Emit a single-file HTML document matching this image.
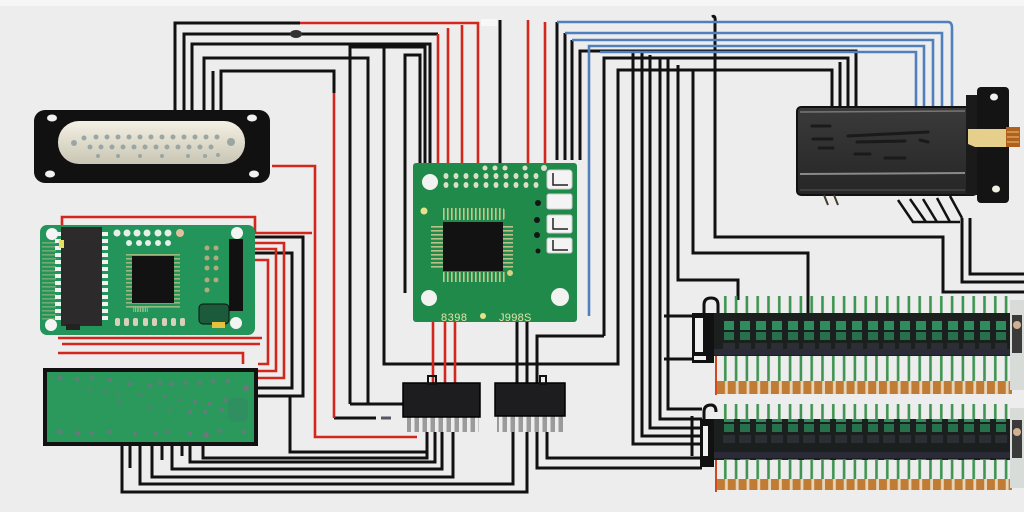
<!DOCTYPE html>
<html><head><meta charset="utf-8">
<style>
html,body{margin:0;padding:0;background:#eeeeee;}
svg{display:block;}
</style></head>
<body>
<svg width="1024" height="512" viewBox="0 0 1024 512" xmlns="http://www.w3.org/2000/svg">
<defs>
  <pattern id="pinsG" x="720" y="0" width="10.8" height="30" patternUnits="userSpaceOnUse">
    <rect x="4" y="0" width="2.6" height="30" fill="#3f9452"/>
  </pattern>
  <pattern id="band" x="716" y="0" width="10.8" height="14" patternUnits="userSpaceOnUse">
    <rect x="0" y="0" width="10.8" height="14" fill="#e6d6bd"/>
    <rect x="1" y="0" width="8" height="14" fill="#c07c34"/>
  </pattern>
  <pattern id="blocks" x="722" y="313" width="16" height="46" patternUnits="userSpaceOnUse">
    <rect x="2" y="8" width="10" height="9" fill="#2f8c5e"/>
    <rect x="2" y="19" width="10" height="8" fill="#26704c"/>
    <rect x="1" y="30" width="12" height="8" fill="#2b2f33"/>
  </pattern>
  <pattern id="chipPins" x="405" y="0" width="8" height="20" patternUnits="userSpaceOnUse">
    <rect x="1.5" y="0" width="4.5" height="20" fill="#9b9b9b"/>
  </pattern>
  <pattern id="goldV" x="442" y="0" width="4" height="20" patternUnits="userSpaceOnUse">
    <rect x="1" y="0" width="1.6" height="20" fill="#c9c48a"/>
  </pattern>
  <pattern id="goldH" x="0" y="225" width="20" height="4" patternUnits="userSpaceOnUse">
    <rect x="0" y="1" width="20" height="1.6" fill="#b9c08a"/>
  </pattern>
  <pattern id="dipPins" x="0" y="231" width="10" height="7" patternUnits="userSpaceOnUse">
    <rect x="0" y="1" width="10" height="4" fill="#f2f2f2"/>
  </pattern>
  <linearGradient id="pill" x1="0" y1="0" x2="0" y2="1">
    <stop offset="0" stop-color="#f4f1e6"/>
    <stop offset="0.5" stop-color="#dedbcb"/>
    <stop offset="1" stop-color="#c9c6b6"/>
  </linearGradient>
  <linearGradient id="dev" x1="0" y1="0" x2="0" y2="1">
    <stop offset="0" stop-color="#3a3a3a"/>
    <stop offset="1" stop-color="#262626"/>
  </linearGradient>
</defs>

<rect x="0" y="0" width="1024" height="512" fill="#ededed"/>
<rect x="0" y="0" width="1024" height="6" fill="#f6f6f6"/>

<!-- ============ WIRES ============ -->
<g fill="none" stroke="#111" stroke-width="3" stroke-linejoin="miter">
  <!-- from D-sub up -->
  <path d="M175,110 V23 H300"/>
  <path d="M184,110 V34 H438"/>
  <path d="M192,110 V44 H430 V163"/>
  <path d="M204,110 V58 H368 V404"/>
  <path d="M213,110 V71"/>
  <path d="M221,110 V71 H334 V93"/>
  <path d="M334,418 H376"/>
  <path d="M350,404 V47 H425 V163"/>
  <path d="M350,404 H403"/>
  <path d="M384,48 V364 H618 V70 H832 V107"/>
  <path d="M405,293 V55 H420 V163"/>
  <path d="M500,163 V20"/>
  <!-- right top group -->
  <path d="M557,160 V22"/>
  <path d="M565,160 V33"/>
  <path d="M572,160 V40"/>
  <path d="M580,160 V51 H856 V107"/>
  <path d="M604,336 V58 H848 V107"/>
  <path d="M604,336 H537 V383"/>
  <path d="M517,322 V383"/>
  <path d="M527,322 V383"/>
  <path d="M633,52 V444 H702"/>
  <path d="M642,52 V436 H702"/>
  <path d="M650,55 V428 H702"/>
  <path d="M660,58 V419 H702"/>
  <path d="M668,58 V409 H702"/>
  <path d="M664,316 H702"/>
  <path d="M664,359 H702"/>
  <path d="M678,65 V280 H738 V300"/>
  <path d="M693,70 V253 H808 V313"/>
  <path d="M712,17 Q716,14 715,24 V237 H943 V292 H1024"/>
  <path d="M962,218 V282 H1024"/>
  <path d="M970,218 V274 H1024"/>
  <path d="M840,107 V62"/>
  <!-- diagonals from device -->
  <path d="M898,200 L913,222 H960" stroke-width="2.5"/>
  <path d="M910,199 L926,222" stroke-width="2.5"/>
  <path d="M923,199 L937,222" stroke-width="2.5"/>
  <path d="M937,198 L950,222" stroke-width="2.5"/>
  <path d="M950,196 L962,218" stroke-width="2.5"/>
  <!-- left PCB nested black -->
  <path d="M250,237 H303 V396 H258"/>
  <path d="M250,253 H292 V388 H258"/>
  <path d="M290,396 V452 H427"/>
  <!-- bottom from board 2 and chips -->
  <path d="M203,446 V458 H427 V432"/>
  <path d="M190,446 V462 H435 V432"/>
  <path d="M172,446 V469 H442 V432"/>
  <path d="M152,446 V477 H453 V432"/>
  <path d="M140,446 V484 H513 V432"/>
  <path d="M122,446 V492 H527 V432"/>
  <path d="M130,446 V468"/>
  <path d="M162,446 V460"/>
  <path d="M182,446 V456"/>
  <path d="M547,432 V458 H702"/>
  <path d="M537,432 V468 H702"/>
  <path d="M692,416 V456"/>
</g>
<!-- gray dash -->
<path d="M381,418 H391" stroke="#556" stroke-width="3"/>

<!-- red wires -->
<g fill="none" stroke="#d3271d" stroke-width="2.6">
  <path d="M300,23 H478 V163"/>
  <path d="M438,34 V163"/>
  <path d="M448,163 V28"/>
  <path d="M462,163 V25"/>
  <path d="M334,93 V418"/>
  <path d="M528,163 V20"/>
  <path d="M545,163 V22"/>
  <path d="M272,166 H315 V437 H417"/>
  <path d="M62,225 V217 H255 V232"/>
  <path d="M250,233 H312"/>
  <path d="M255,243 H284 V378 H258"/>
  <path d="M255,249 H276 V371 H258"/>
  <path d="M255,260 H268 V364 H258"/>
  <path d="M58,338 H262"/>
  <path d="M62,344 H260"/>
  <path d="M58,353 H243 V364"/>
  <path d="M433,322 V383"/>
  <path d="M445,322 V383"/>
  <path d="M455,322 V383"/>
</g>
<rect x="481" y="19" width="16" height="7" fill="#f8f8f8"/>

<!-- blue wires -->
<g fill="none" stroke="#4f80bd" stroke-width="2.6">
  <path d="M557,22 H948 Q952,22 952,28 V107"/>
  <path d="M565,33 H942 V107"/>
  <path d="M572,40 H933 V107"/>
  <path d="M589,316 V46 H924 V107"/>
  <path d="M916,107 V52 H600"/>
</g>

<!-- small blob on wire -->
<ellipse cx="296" cy="34" rx="6" ry="4" fill="#333"/>

<!-- ============ D-SUB CONNECTOR ============ -->
<rect x="34" y="110" width="236" height="73" rx="11" fill="#111"/>
<rect x="58" y="121" width="187" height="43" rx="21" fill="url(#pill)"/>
<g fill="#9aa6a4">
  <circle cx="84" cy="138" r="2.5"/><circle cx="96" cy="137" r="2.5"/><circle cx="107" cy="137" r="2.5"/><circle cx="118" cy="137" r="2.5"/><circle cx="129" cy="137" r="2.5"/><circle cx="140" cy="137" r="2.5"/><circle cx="151" cy="137" r="2.5"/><circle cx="162" cy="137" r="2.5"/><circle cx="173" cy="137" r="2.5"/><circle cx="184" cy="137" r="2.5"/><circle cx="195" cy="137" r="2.5"/><circle cx="206" cy="137" r="2.5"/><circle cx="217" cy="137" r="2.5"/>
  <circle cx="90" cy="147" r="2.5"/><circle cx="101" cy="147" r="2.5"/><circle cx="112" cy="147" r="2.5"/><circle cx="123" cy="147" r="2.5"/><circle cx="134" cy="147" r="2.5"/><circle cx="145" cy="147" r="2.5"/><circle cx="156" cy="147" r="2.5"/><circle cx="167" cy="147" r="2.5"/><circle cx="178" cy="147" r="2.5"/><circle cx="189" cy="147" r="2.5"/><circle cx="200" cy="147" r="2.5"/><circle cx="211" cy="147" r="2.5"/>
  <circle cx="98" cy="156" r="2"/><circle cx="118" cy="156" r="2"/><circle cx="140" cy="156" r="2"/><circle cx="162" cy="156" r="2"/><circle cx="188" cy="156" r="2"/><circle cx="205" cy="156" r="2"/><circle cx="218" cy="155" r="2"/>
  <circle cx="231" cy="142" r="4"/><circle cx="74" cy="143" r="3"/>
</g>
<g fill="#f2f2f2">
  <ellipse cx="52" cy="118" rx="5" ry="3.5"/><ellipse cx="252" cy="118" rx="5" ry="3.5"/>
  <ellipse cx="50" cy="174" rx="5" ry="3.5"/><ellipse cx="254" cy="174" rx="5" ry="3.5"/>
</g>

<!-- ============ LEFT PCB 1 ============ -->
<rect x="40" y="225" width="215" height="110" rx="7" fill="#23945a"/>
<rect x="42" y="240" width="14" height="80" fill="url(#goldH)" opacity="0.5"/>
<rect x="55" y="230" width="6" height="92" fill="url(#dipPins)"/>
<rect x="102" y="230" width="6" height="92" fill="url(#dipPins)"/>
<rect x="61" y="227" width="41" height="99" fill="#2c2a2a"/>
<rect x="66" y="324" width="14" height="6" fill="#222"/>
<rect x="59" y="240" width="5" height="8" fill="#e8e060"/>
<rect x="126" y="252" width="54" height="56" fill="url(#goldH)" opacity="0.8"/>
<rect x="132" y="256" width="42" height="47" fill="#121212"/>
<text x="133" y="312" font-family="Liberation Sans, sans-serif" font-size="6" fill="#cfe0b0">IIIIIIIII</text>
<g fill="#e6efe8">
  <circle cx="117" cy="233" r="3.5"/><circle cx="127" cy="233" r="3.5"/><circle cx="137" cy="233" r="3.5"/><circle cx="147" cy="233" r="3.5"/><circle cx="158" cy="233" r="3.5"/><circle cx="168" cy="233" r="3.5"/>
  <circle cx="129" cy="243" r="3"/><circle cx="139" cy="243" r="3"/><circle cx="148" cy="243" r="3"/><circle cx="158" cy="243" r="3"/><circle cx="168" cy="243" r="3"/>
</g>
<circle cx="180" cy="233" r="4" fill="#e0c0a0"/>
<g fill="#d8d0b8">
  <rect x="115" y="318" width="5" height="8" rx="2"/><rect x="124" y="318" width="5" height="8" rx="2"/><rect x="133" y="318" width="5" height="8" rx="2"/><rect x="143" y="318" width="5" height="8" rx="2"/><rect x="152" y="318" width="5" height="8" rx="2"/><rect x="162" y="318" width="5" height="8" rx="2"/><rect x="171" y="318" width="5" height="8" rx="2"/><rect x="180" y="318" width="5" height="8" rx="2"/>
</g>
<g fill="#c8b080" opacity="0.85">
  <circle cx="207" cy="248" r="2.5"/><circle cx="216" cy="248" r="2.5"/><circle cx="207" cy="258" r="2.5"/><circle cx="216" cy="258" r="2.5"/><circle cx="207" cy="268" r="2.5"/><circle cx="216" cy="268" r="2.5"/><circle cx="207" cy="280" r="2.5"/><circle cx="216" cy="280" r="2.5"/><circle cx="207" cy="290" r="2.5"/>
</g>
<rect x="229" y="239" width="14" height="72" fill="#111"/>
<rect x="199" y="304" width="30" height="20" rx="4" fill="#1b5a3a" stroke="#111" stroke-width="1"/>
<rect x="212" y="322" width="13" height="6" fill="#e8c040"/>
<g fill="#f4f4f4">
  <circle cx="52" cy="234" r="6"/><circle cx="237" cy="233" r="6"/>
  <circle cx="51" cy="325" r="6"/><circle cx="236" cy="323" r="6"/>
</g>

<!-- ============ LEFT PCB 2 ============ -->
<rect x="45" y="370" width="211" height="74" fill="#2a995b" stroke="#111" stroke-width="4"/>
<g fill="#7a6f86" opacity="0.8">
  <circle cx="60" cy="378" r="2.5"/><circle cx="77" cy="379" r="2"/><circle cx="92" cy="378" r="2"/><circle cx="110" cy="380" r="2"/><circle cx="130" cy="384" r="2"/><circle cx="150" cy="386" r="2"/><circle cx="160" cy="383" r="2"/><circle cx="172" cy="384" r="2"/><circle cx="186" cy="383" r="2"/><circle cx="200" cy="383" r="2"/><circle cx="213" cy="381" r="2"/><circle cx="228" cy="381" r="2"/><circle cx="246" cy="388" r="3"/>
  <circle cx="90" cy="390" r="1.5"/><circle cx="105" cy="392" r="1.5"/><circle cx="118" cy="394" r="1.5"/><circle cx="140" cy="395" r="1.5"/><circle cx="165" cy="396" r="1.5"/><circle cx="180" cy="400" r="1.5"/><circle cx="195" cy="402" r="2"/><circle cx="210" cy="404" r="2"/><circle cx="225" cy="400" r="2"/>
  <circle cx="120" cy="402" r="1.5"/><circle cx="150" cy="408" r="1.5"/><circle cx="170" cy="410" r="1.5"/><circle cx="190" cy="412" r="2"/><circle cx="205" cy="412" r="2"/><circle cx="222" cy="410" r="2"/><circle cx="236" cy="410" r="2.5"/>
  <circle cx="60" cy="432" r="2.5"/><circle cx="78" cy="433" r="2.5"/><circle cx="92" cy="433" r="2"/><circle cx="110" cy="432" r="2"/><circle cx="135" cy="434" r="2"/><circle cx="155" cy="433" r="2"/><circle cx="168" cy="432" r="2"/><circle cx="190" cy="433" r="2"/><circle cx="206" cy="435" r="3"/><circle cx="220" cy="431" r="2"/><circle cx="244" cy="432" r="2"/>
</g>
<rect x="228" y="398" width="20" height="24" rx="6" fill="#2f8f60"/>

<!-- ============ CENTER PCB ============ -->
<rect x="413" y="163" width="164" height="159" rx="3" fill="#1f8a49"/>
<g fill="#d9dfc9">
  <ellipse cx="446" cy="176" rx="2.5" ry="3"/><ellipse cx="456" cy="176" rx="2.5" ry="3"/><ellipse cx="466" cy="176" rx="2.5" ry="3"/><ellipse cx="476" cy="176" rx="2.5" ry="3"/><ellipse cx="486" cy="176" rx="2.5" ry="3"/><ellipse cx="496" cy="176" rx="2.5" ry="3"/><ellipse cx="506" cy="176" rx="2.5" ry="3"/><ellipse cx="516" cy="176" rx="2.5" ry="3"/><ellipse cx="526" cy="176" rx="2.5" ry="3"/><ellipse cx="536" cy="176" rx="2.5" ry="3"/>
  <ellipse cx="446" cy="185" rx="2.5" ry="3"/><ellipse cx="456" cy="185" rx="2.5" ry="3"/><ellipse cx="466" cy="185" rx="2.5" ry="3"/><ellipse cx="476" cy="185" rx="2.5" ry="3"/><ellipse cx="486" cy="185" rx="2.5" ry="3"/><ellipse cx="496" cy="185" rx="2.5" ry="3"/><ellipse cx="506" cy="185" rx="2.5" ry="3"/><ellipse cx="516" cy="185" rx="2.5" ry="3"/><ellipse cx="526" cy="185" rx="2.5" ry="3"/><ellipse cx="536" cy="185" rx="2.5" ry="3"/>
  <circle cx="485" cy="168" r="2.5"/><circle cx="495" cy="168" r="2.5"/><circle cx="505" cy="168" r="2.5"/><circle cx="525" cy="168" r="2.5"/><circle cx="544" cy="168" r="3"/>
</g>
<rect x="441" y="208" width="64" height="12" rx="3" fill="url(#goldV)"/>
<rect x="441" y="272" width="64" height="10" fill="url(#goldV)"/>
<rect x="431" y="225" width="12" height="45" fill="url(#goldH)"/>
<rect x="503" y="225" width="10" height="45" fill="url(#goldH)"/>
<rect x="443" y="222" width="60" height="49" fill="#121212"/>
<circle cx="424" cy="211" r="3.5" fill="#e8e08a"/>
<circle cx="510" cy="273" r="3" fill="#d8d080"/>
<g fill="#f2f2f0">
  <circle cx="430" cy="182" r="8"/><circle cx="429" cy="298" r="8"/><circle cx="560" cy="297" r="9"/>
</g>
<g fill="#f4f4f4" stroke="#ccc" stroke-width="1">
  <rect x="547" y="170" width="25" height="19" rx="3"/>
  <rect x="547" y="194" width="25" height="15" rx="2"/>
  <rect x="547" y="215" width="25" height="18" rx="2"/>
  <rect x="547" y="238" width="25" height="15" rx="2"/>
</g>
<g fill="none" stroke="#222" stroke-width="1.5">
  <path d="M553,173 V185 H568"/><path d="M553,218 V229 H568"/><path d="M553,240 V250 H568"/>
</g>
<g fill="#151515">
  <circle cx="538" cy="203" r="3"/><circle cx="537" cy="220" r="3"/><circle cx="537" cy="235" r="3"/><circle cx="538" cy="251" r="2.5"/>
</g>
<circle cx="483" cy="316" r="3" fill="#e8e08a"/>
<text x="441" y="321" font-family="Liberation Sans, sans-serif" font-size="11" fill="#e6e2a8" letter-spacing="0.5">8398</text>
<text x="499" y="321" font-family="Liberation Sans, sans-serif" font-size="11" fill="#e6e2a8" letter-spacing="0.3">J998S</text>

<!-- ============ CHIPS ============ -->
<rect x="407" y="416" width="72" height="16" fill="url(#chipPins)"/>
<rect x="403" y="383" width="77" height="34" fill="#1d1d20" stroke="#000" stroke-width="1.5"/>
<rect x="428" y="376" width="8" height="8" fill="none" stroke="#111" stroke-width="2"/>
<rect x="497" y="416" width="68" height="16" fill="url(#chipPins)"/>
<rect x="495" y="383" width="70" height="33" fill="#1d1d20" stroke="#000" stroke-width="1.5"/>
<rect x="540" y="376" width="6" height="8" fill="none" stroke="#111" stroke-width="2"/>

<!-- ============ RIGHT DEVICE ============ -->
<rect x="797" y="107" width="180" height="88" rx="4" fill="url(#dev)" stroke="#111" stroke-width="2"/>
<line x1="800" y1="112" x2="965" y2="111" stroke="#777" stroke-width="1.5"/>
<line x1="800" y1="174" x2="965" y2="173" stroke="#8a8a8a" stroke-width="2"/>
<line x1="800" y1="190" x2="965" y2="190" stroke="#555" stroke-width="1"/>
<g stroke="#1a1a1a" stroke-width="3" stroke-linecap="round">
  <line x1="812" y1="126" x2="830" y2="126"/><line x1="813" y1="139" x2="832" y2="139"/><line x1="819" y1="148" x2="833" y2="148"/>
  <line x1="848" y1="136" x2="928" y2="132"/><line x1="857" y1="142" x2="905" y2="141"/><line x1="855" y1="154" x2="870" y2="154"/><line x1="885" y1="158" x2="905" y2="158"/><line x1="920" y1="140" x2="928" y2="142"/>
</g>
<path d="M824,195 L828,205 M834,195 L838,205" stroke="#4a3a2a" stroke-width="2"/>
<rect x="966" y="95" width="14" height="100" fill="#1a1a1a"/>
<rect x="977" y="87" width="32" height="116" rx="4" fill="#141414"/>
<ellipse cx="994" cy="97" rx="4" ry="3.5" fill="#f0f0f0"/>
<ellipse cx="996" cy="189" rx="4" ry="3.5" fill="#f0f0e0"/>
<path d="M968,129 H1008 V147 H975 L968,144 Z" fill="#e6cf8a"/>
<rect x="1006" y="127" width="14" height="20" fill="#b0621c"/>
<g stroke="#f0c080" stroke-width="1"><line x1="1007" y1="132" x2="1019" y2="132"/><line x1="1007" y1="137" x2="1019" y2="137"/><line x1="1007" y1="142" x2="1019" y2="142"/></g>

<!-- ============ RIGHT RACK BOARDS ============ -->
<!-- board 1 -->
<rect x="720" y="296" width="290" height="18" fill="url(#pinsG)"/>
<rect x="716" y="354" width="296" height="28" fill="url(#pinsG)"/>
<rect x="716" y="381" width="296" height="13" fill="url(#band)"/>
<rect x="712" y="313" width="310" height="43" fill="#1b1f1d"/>
<rect x="722" y="313" width="288" height="43" fill="url(#blocks)"/>
<rect x="712" y="349" width="310" height="6" fill="#2a2a38"/>
<rect x="1010" y="300" width="14" height="90" fill="#d8dcd8"/>
<rect x="1012" y="315" width="10" height="38" fill="#3a3a3a"/>
<circle cx="1017" cy="325" r="4" fill="#d0b090"/>
<!-- bracket 1 -->
<path d="M704,313 V305 Q704,298 711,298 Q718,298 718,305 V313" fill="none" stroke="#111" stroke-width="3"/>
<rect x="692" y="313" width="22" height="50" fill="#111"/>
<rect x="695" y="318" width="8" height="34" fill="#f0f0f0"/>
<rect x="694" y="356" width="12" height="4" fill="#f0f0f0"/>
<line x1="716" y1="356" x2="716" y2="395" stroke="#d04a20" stroke-width="2"/>

<!-- board 2 -->
<rect x="720" y="404" width="290" height="16" fill="url(#pinsG)"/>
<rect x="716" y="458" width="296" height="23" fill="url(#pinsG)"/>
<rect x="716" y="479" width="296" height="11" fill="url(#band)"/>
<rect x="712" y="419" width="310" height="41" fill="#1b1f1d"/>
<rect x="722" y="419" width="288" height="41" fill="url(#blocks)"/>
<rect x="712" y="452" width="310" height="6" fill="#2a2a38"/>
<rect x="1010" y="408" width="14" height="80" fill="#d8dcd8"/>
<rect x="1012" y="420" width="10" height="38" fill="#3a3a3a"/>
<circle cx="1017" cy="432" r="4" fill="#d0b090"/>
<path d="M704,419 V412 Q704,405 711,405 Q716,405 716,412" fill="none" stroke="#111" stroke-width="3"/>
<rect x="700" y="419" width="14" height="48" fill="#111"/>
<rect x="703" y="426" width="5" height="30" fill="#f0f0f0"/>
<line x1="716" y1="460" x2="716" y2="492" stroke="#d04a20" stroke-width="2"/>
</svg>
</body></html>
